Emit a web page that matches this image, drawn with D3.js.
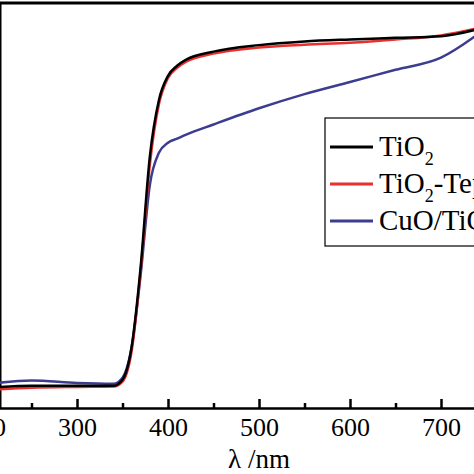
<!DOCTYPE html><html><head><script src="https://cdn.jsdelivr.net/npm/d3@7"></script>
<style>body{margin:0;background:#fff}</style></head><body><svg id="c" width="474" height="474"></svg><script>
const wl =      [205,250,300,340,350,360,370,380,390,400,410,420,450,500,550,600,650,700,745];
const tio2 =    [5,5.5,5.5,5.5,7,15,35,62,76,82,84.5,86,88,89.6,90.5,91,91.4,91.8,93.8];
const tio2Tep = [4.5,5,5.2,5.3,6.5,14,34,60,75,81.5,84,85.5,87.5,89,89.7,90.2,91,92,94];
const cuo =     [6,6.8,6.2,6,7.5,15,33,55,63,65.5,66.5,67.5,70,74,77.5,80.5,83.5,86.5,93];
const xTicks = [200,300,400,500,600,700];
const names = ["TiO","TiO","CuO/TiO"];
const colors = ["#000","#e8302f","#3d3d8f"];
const svg = d3.select("#c");
const x = d3.scaleLinear().domain([200,800]).range([-14,532]);
const y = d3.scaleLinear().domain([0,100]).range([408,3]);
svg.append("line").attr("x1",0).attr("x2",474).attr("y1",3).attr("y2",3).attr("stroke","#000").attr("stroke-width",3);
svg.append("line").attr("x1",0).attr("x2",0).attr("y1",3).attr("y2",408).attr("stroke","#000").attr("stroke-width",3);
const ax = svg.append("g").attr("transform","translate(0,408)")
 .call(d3.axisBottom(x).tickValues(xTicks).tickSize(-9).tickPadding(10).tickFormat(d3.format("d")));
ax.select(".domain").attr("stroke-width",2.5);
ax.selectAll(".tick line").attr("stroke-width",2.5);
ax.selectAll("text").attr("font-family","Liberation Serif").attr("font-size",26).attr("fill","#000");
svg.append("g").attr("transform","translate(0,408)").call(d3.axisBottom(x).tickValues(d3.range(250,800,100)).tickSize(-5).tickFormat(""))
 .call(g=>{g.select(".domain").remove();g.selectAll("line").attr("stroke-width",2.5);});
svg.append("text").attr("x",259).attr("y",468).attr("text-anchor","middle").attr("font-family","Liberation Serif").attr("font-size",27).text("λ /nm");
const line = d3.line().x((d,i)=>x(wl[i])).y(d=>y(d)).curve(d3.curveMonotoneX);
[cuo,tio2Tep,tio2].forEach((s,k)=>svg.append("path").attr("d",line(s)).attr("fill","none").attr("stroke",[colors[2],colors[1],colors[0]][k]).attr("stroke-width",2.5));
const lg = svg.append("g");
lg.append("rect").attr("x",325).attr("y",118).attr("width",160).attr("height",128).attr("fill","#fff").attr("stroke","#000").attr("stroke-width",1.2);
const ly=[147,184,221];
ly.forEach((yy,i)=>{
 lg.append("line").attr("x1",330).attr("x2",373).attr("y1",yy).attr("y2",yy).attr("stroke",colors[i]).attr("stroke-width",3);
 const t = lg.append("text").attr("x",379).attr("y",yy+9).attr("font-family","Liberation Serif").attr("font-size",29);
 t.append("tspan").text(names[i]);
 if(i<2){t.append("tspan").attr("font-size",18).attr("dy",9).text("2");}
 if(i==1){t.append("tspan").attr("dy",-9).text("-Tep");}
});
</script></body></html>
